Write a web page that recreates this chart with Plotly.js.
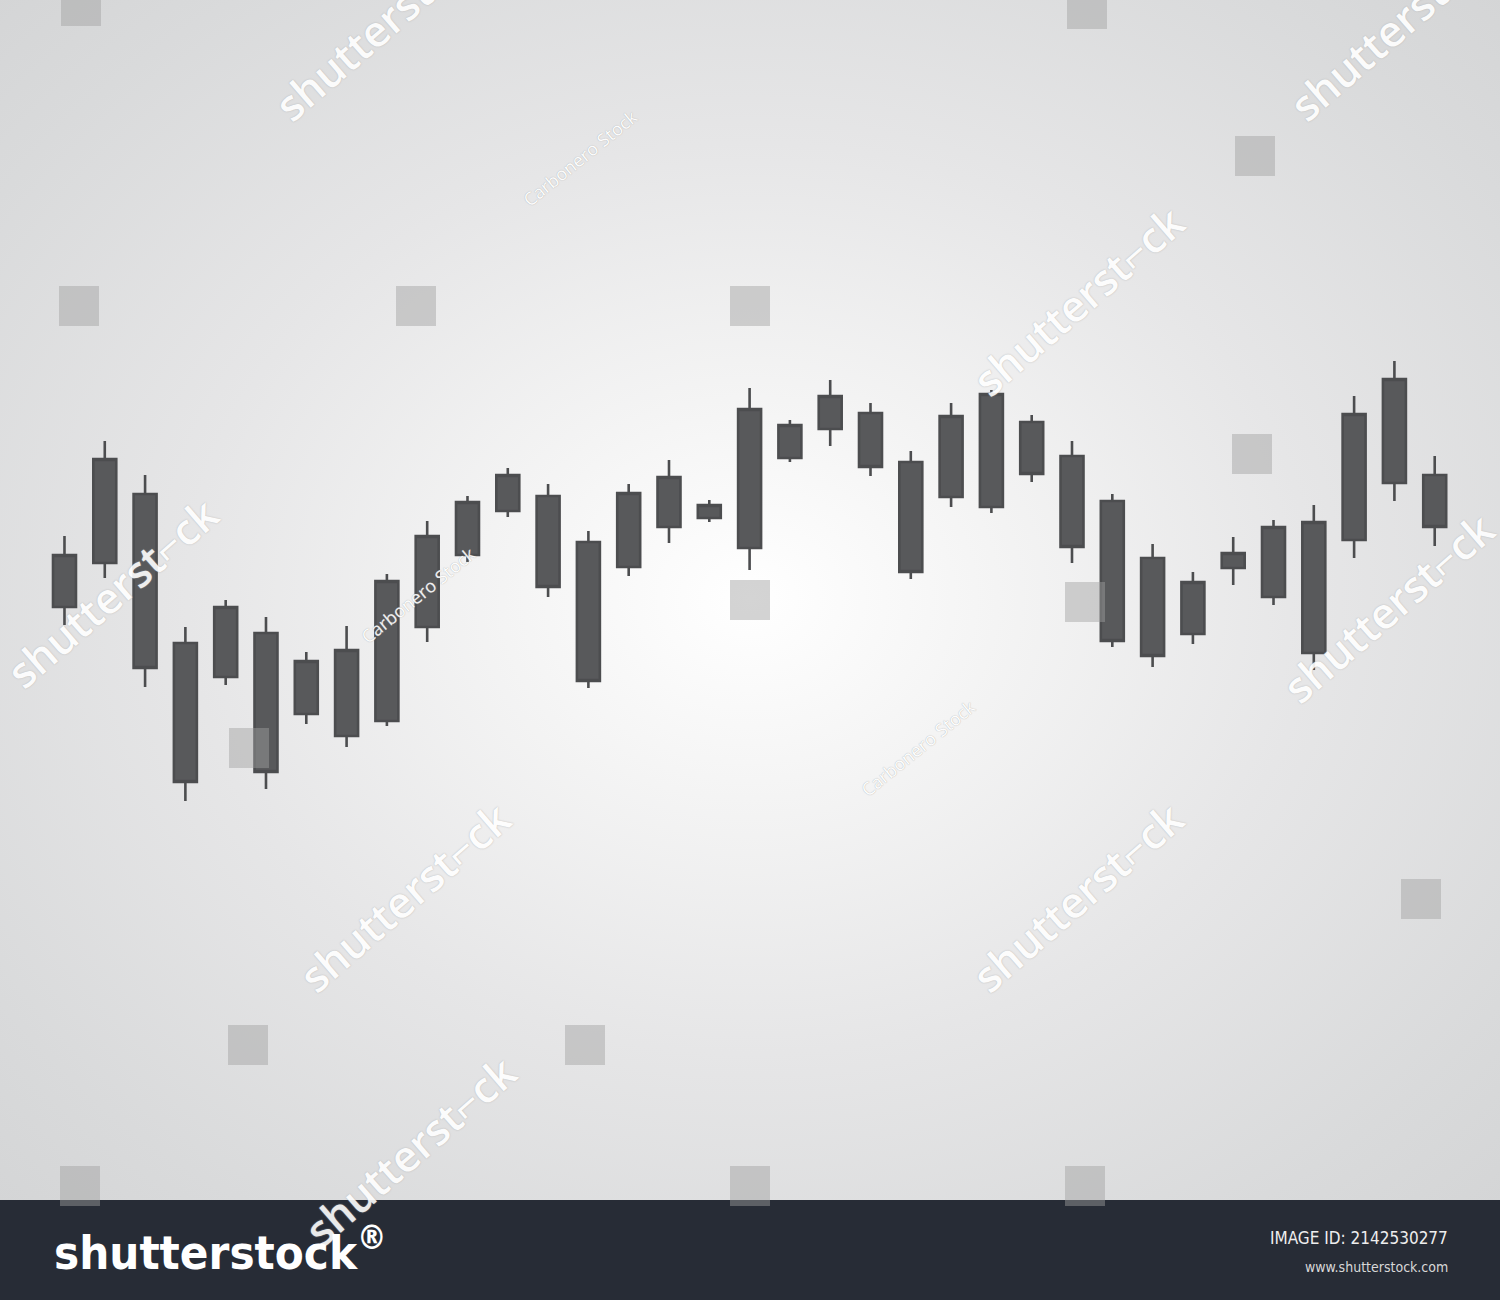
<!DOCTYPE html>
<html>
<head>
<meta charset="utf-8">
<script src="https://cdn.plot.ly/plotly-3.0.1.min.js"></script>
<style>
  html, body { margin: 0; padding: 0; }
  body {
    width: 1500px; height: 1300px; overflow: hidden;
    background: radial-gradient(ellipse 75% 70% at 50% 46%, #ffffff 0%, #f4f4f4 22%, #e6e6e7 50%, #d9dadb 80%, #d2d3d4 100%);
  }
  #chart { width: 1500px; height: 1300px; }
</style>
</head>
<body>
<div id="chart"></div>
<script>
// Candle index (session number)
const sessions = Array.from({length: 35}, (_, i) => i + 1);

// Prices (arbitrary units)
const highs  = [66.4, 75.9, 72.5, 57.3, 60.0, 58.3, 54.8, 57.4, 62.6, 67.9, 70.4, 73.2, 71.6, 66.9, 71.6, 74.0, 70.0, 81.2, 78.0, 82.0, 79.7, 74.9, 79.7, 81.0, 78.5, 75.9, 70.6, 65.6, 62.8, 66.3, 68.0, 69.5, 80.4, 83.9, 74.4];
const lows   = [57.5, 62.2, 51.3, 39.9, 51.5, 41.1, 47.6, 45.3, 47.4, 55.8, 63.8, 68.3, 60.3, 51.2, 62.4, 65.7, 67.8, 63.0, 73.8, 75.4, 72.4, 62.1, 69.3, 68.7, 71.8, 63.7, 55.3, 53.3, 55.6, 61.5, 59.5, 53.0, 64.2, 69.9, 65.4];
const opens  = [59.3, 63.7, 70.6, 55.7, 52.3, 56.7, 48.6, 46.4, 47.9, 57.3, 64.5, 68.9, 70.4, 65.8, 63.3, 67.3, 68.2, 65.2, 74.2, 77.1, 78.7, 73.8, 70.3, 69.3, 77.8, 74.4, 69.9, 64.2, 56.6, 63.2, 60.3, 54.7, 66.0, 71.7, 72.5];
const closes = [64.5, 74.1, 53.2, 41.8, 59.3, 42.8, 53.9, 55.0, 61.9, 66.4, 69.8, 72.5, 61.3, 51.9, 70.7, 72.3, 69.5, 79.1, 77.5, 80.4, 73.3, 62.8, 78.4, 80.6, 72.6, 65.3, 55.9, 54.4, 61.8, 64.7, 67.3, 67.8, 78.6, 82.1, 67.3];

// Footer texts
const brandText = "shutterstock<sup>®</sup>";
const imageIdText = "IMAGE ID: 2142530277";
const siteText = "www.shutterstock.com";

// Watermark texts
const wmShutter = "shutterst⌐ck";
const wmAuthor = "Carbonero Stock";

const candleColor = '#58595b';
const candleLine = '#4c4d4f';
const narrow = 'DejaVu Sans Condensed, DejaVu Sans, sans-serif';

const trace = {
  type: 'candlestick',
  x: sessions,
  open: opens, high: highs, low: lows, close: closes,
  increasing: {line: {color: candleLine, width: 2.6}, fillcolor: candleColor},
  decreasing: {line: {color: candleLine, width: 2.6}, fillcolor: candleColor},
  whiskerwidth: 0,
  hoverinfo: 'skip',
  showlegend: false
};

const wm = (text, x, y) => ({
  text: text, xref: 'paper', yref: 'paper',
  x: x / 1500, y: 1 - y / 1300, xanchor: 'center', yanchor: 'middle', showarrow: false,
  textangle: -41, opacity: 0.9,
  font: {family: 'Open Sans', size: 43, color: '#ffffff', weight: 600, shadow: '0px 0px 1.5px #a8a8a8'}
});
const wmA = (x, y, col) => ({
  text: wmAuthor, xref: 'paper', yref: 'paper',
  x: x / 1500, y: 1 - y / 1300, xanchor: 'center', yanchor: 'middle', showarrow: false,
  textangle: -39, opacity: 0.9,
  font: {family: 'Open Sans', size: 18, color: col, shadow: '0px 0px 1px #9a9a9a'}
});

const annotations = [
  wm(wmShutter, 405, 897),
  wm(wmShutter, 1078, 897),
  wm(wmShutter, 1078, 300),
  wm(wmShutter, 1388, 607),
  wm(wmShutter, 112, 592),
  wm(wmShutter, 410, 1150),
  wm(wmShutter, 380, 25),
  wm(wmShutter, 1395, 25),
  wmA(580, 158, '#ffffff'),
  wmA(418, 595, '#ffffff'),
  wmA(918, 748, '#ffffff'),
  // footer
  {text: brandText, xref: 'paper', yref: 'paper', x: 52/1500, y: 1 - 1249/1300, xanchor: 'left', yanchor: 'middle', showarrow: false,
   font: {family: narrow, size: 47, color: '#ffffff', weight: 700, stretch: 'condensed'}},
  {text: imageIdText, xref: 'paper', yref: 'paper', x: 1450/1500, y: 1 - 1238/1300, xanchor: 'right', yanchor: 'middle', showarrow: false,
   font: {family: narrow, size: 17, color: '#eeeeee', stretch: 'condensed'}},
  {text: siteText, xref: 'paper', yref: 'paper', x: 1450/1500, y: 1 - 1267/1300, xanchor: 'right', yanchor: 'middle', showarrow: false,
   font: {family: narrow, size: 14, color: '#d8d8d8', stretch: 'condensed'}}
];

// watermark badge squares (paper pixel centres)
const badge = (cx, cy) => ({
  type: 'rect', xref: 'paper', yref: 'paper',
  x0: (cx - 20) / 1500, x1: (cx + 20) / 1500, y0: 1 - (cy + 20) / 1300, y1: 1 - (cy - 20) / 1300,
  fillcolor: 'rgba(160,160,160,0.45)', line: {width: 0}, layer: 'above'
});

const layout = {
  width: 1500, height: 1300,
  margin: {l: 0, r: 0, t: 0, b: 0},
  paper_bgcolor: 'rgba(0,0,0,0)',
  plot_bgcolor: 'rgba(0,0,0,0)',
  boxgap: 0.43,
  boxgroupgap: 0,
  xaxis: {range: [-0.6, 36.62], visible: false, rangeslider: {visible: false}, fixedrange: true},
  yaxis: {range: [0, 120], domain: [100/1300, 1], visible: false, fixedrange: true},
  shapes: [
    {type: 'rect', xref: 'paper', yref: 'paper', x0: 0, x1: 1, y0: 0, y1: 100/1300,
     fillcolor: '#272c36', line: {width: 0}, layer: 'above'},
    badge(81, 6), badge(1087, 9), badge(79, 306), badge(416, 306), badge(750, 306),
    badge(1255, 156), badge(1252, 454), badge(750, 600), badge(1085, 602), badge(249, 748),
    badge(1421, 899), badge(248, 1045), badge(585, 1045), badge(80, 1186), badge(750, 1186), badge(1085, 1186)
  ],
  annotations: annotations,
  showlegend: false
};

Plotly.newPlot('chart', [trace], layout, {displayModeBar: false, staticPlot: true});
</script>
</body>
</html>
